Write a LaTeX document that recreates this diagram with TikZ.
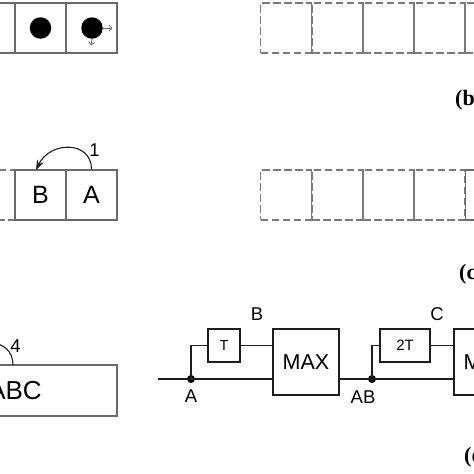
\documentclass[tikz,border=0pt]{standalone}
\usepackage{fontspec}
\setmainfont{Liberation Sans}
\newfontfamily\serifl{Liberation Serif}
\usetikzlibrary{arrows.meta,calc}
\definecolor{cellgray}{HTML}{6A6A6A}
\definecolor{dashgray}{HTML}{7A7A7A}
\definecolor{wireblack}{HTML}{1E1E1E}
\begin{document}
\begin{tikzpicture}[x=1pt,y=-1pt,
  cellbox/.style={draw=cellgray, line width=1.3pt, minimum width=51pt, minimum height=50pt, inner sep=0pt, font=\fontsize{25}{25}\selectfont},
  dcell/.style={cellbox, draw=dashgray, dash pattern=on 7.5pt off 3.5pt},
  bigdot/.style={circle, fill=black, minimum size=21.5pt, inner sep=0pt},
  jdot/.style={circle, fill=black, minimum size=8pt, inner sep=0pt},
  thinarrow/.style={draw=cellgray, line width=0.8pt, -{Straight Barb[length=3pt,width=6pt]}},
  curvearrow/.style={draw=wireblack, line width=1.1pt, -{Stealth[length=10pt,width=7pt]}},
  blk/.style={draw=wireblack, line width=1.3pt, inner sep=0pt},
  wire/.style={draw=wireblack, line width=1.3pt},
  lbl/.style={font=\fontsize{18.5}{18.5}\selectfont, inner sep=0pt},
  sublbl/.style={font=\serifl\bfseries\fontsize{22}{22}\selectfont, anchor=west, inner sep=0pt}]
\useasboundingbox (0,0) rectangle (474,474);
\clip (0,0) rectangle (474,474);

% ---- row (a)
\node[cellbox] (a0) at (-10.5,28) {};
\node[cellbox] (a1) at (40.5,28) {};
\node[cellbox] (a2) at (91.5,28) {};
\node[bigdot] (d1) at (40.5,28) {};
\node[bigdot] (d2) at (92,28) {};
\coordinate (r2) at (112.5,28);
\coordinate (dn2) at (91,45.5);
\draw[thinarrow] (d2.east) -- (r2);
\draw[thinarrow] (d2.south) -- (dn2);
\node[dcell] (a3) at (286,28) {};
\node[dcell] (a4) at (337.5,28) {};
\node[dcell] (a5) at (388.5,28) {};
\node[dcell] (a6) at (439.5,28) {};
\node[dcell] (a7) at (490.5,28) {};
\node[sublbl] (lb) at (455,100) {(b)};

% ---- row (b)
\node[dcell] (b0) at (-10.5,195) {};
\node[cellbox] (b1) at (40.5,195) {B};
\node[cellbox] (b2) at (91.5,195) {A};
\node[dcell] (b3) at (286,195) {};
\node[dcell] (b4) at (337.5,195) {};
\node[dcell] (b5) at (388.5,195) {};
\node[dcell] (b6) at (439.5,195) {};
\node[cellbox] (b7) at (491,195) {};
\coordinate (e1) at (36,170);
\draw[curvearrow] (b2.north) .. controls +(0,-29) and +(14,-29) .. (e1);
\node[lbl] (l1) at (94.5,150) {1};
\node[sublbl] (lc) at (459,274) {(c)};

% ---- row (c)
\node[blk, draw=cellgray, minimum width=177pt, minimum height=51pt] (abc) at (28.5,390.5) {};
\node[inner sep=0pt, font=\fontsize{26}{26}\selectfont] (abct) at (15,390.5) {ABC};
\coordinate (s4) at (13,365);
\coordinate (e4) at (-43,365);
\draw[curvearrow] (s4) .. controls +(0,-29) and +(14,-29) .. (e4);
\node[lbl] (l4) at (15.5,346) {4};

% ---- circuit
\coordinate (in) at (158,379);
\node[jdot] (A) at (191,379) {};
\node[blk, minimum width=32pt, minimum height=33pt, font=\fontsize{14.5}{14.5}\selectfont] (T) at (224,345.5) {T};
\node[blk, minimum width=66pt, minimum height=66pt, font=\fontsize{21.5}{21.5}\selectfont] (M1) at (306,362) {MAX};
\node[jdot] (AB) at (372,379) {};
\node[blk, minimum width=50pt, minimum height=33pt, font=\fontsize{15}{15}\selectfont] (T2) at (405,345.5) {2T};
\node[blk, minimum width=66pt, minimum height=66pt, font=\fontsize{21.5}{21.5}\selectfont] (M2) at (487,362) {MAX};
\draw[wire] (in) -- (A.center) -- (A.center -| M1.west);
\draw[wire] (A.center) |- (T.west);
\draw[wire] (T.east) -- (T.east -| M1.west);
\draw[wire] (M1.east |- AB.center) -- (AB.center) -- (AB.center -| M2.west);
\draw[wire] (AB.center) |- (T2.west);
\draw[wire] (T2.east) -- (T2.east -| M2.west);
\node[lbl] (lA) at (191,396.5) {A};
\node[lbl] (lB) at (257,314.5) {B};
\node[lbl] (lAB) at (363,397) {AB};
\node[lbl] (lC) at (437,314.5) {C};
\node[sublbl] (ld) at (464,457) {(d)};
\end{tikzpicture}
\end{document}
